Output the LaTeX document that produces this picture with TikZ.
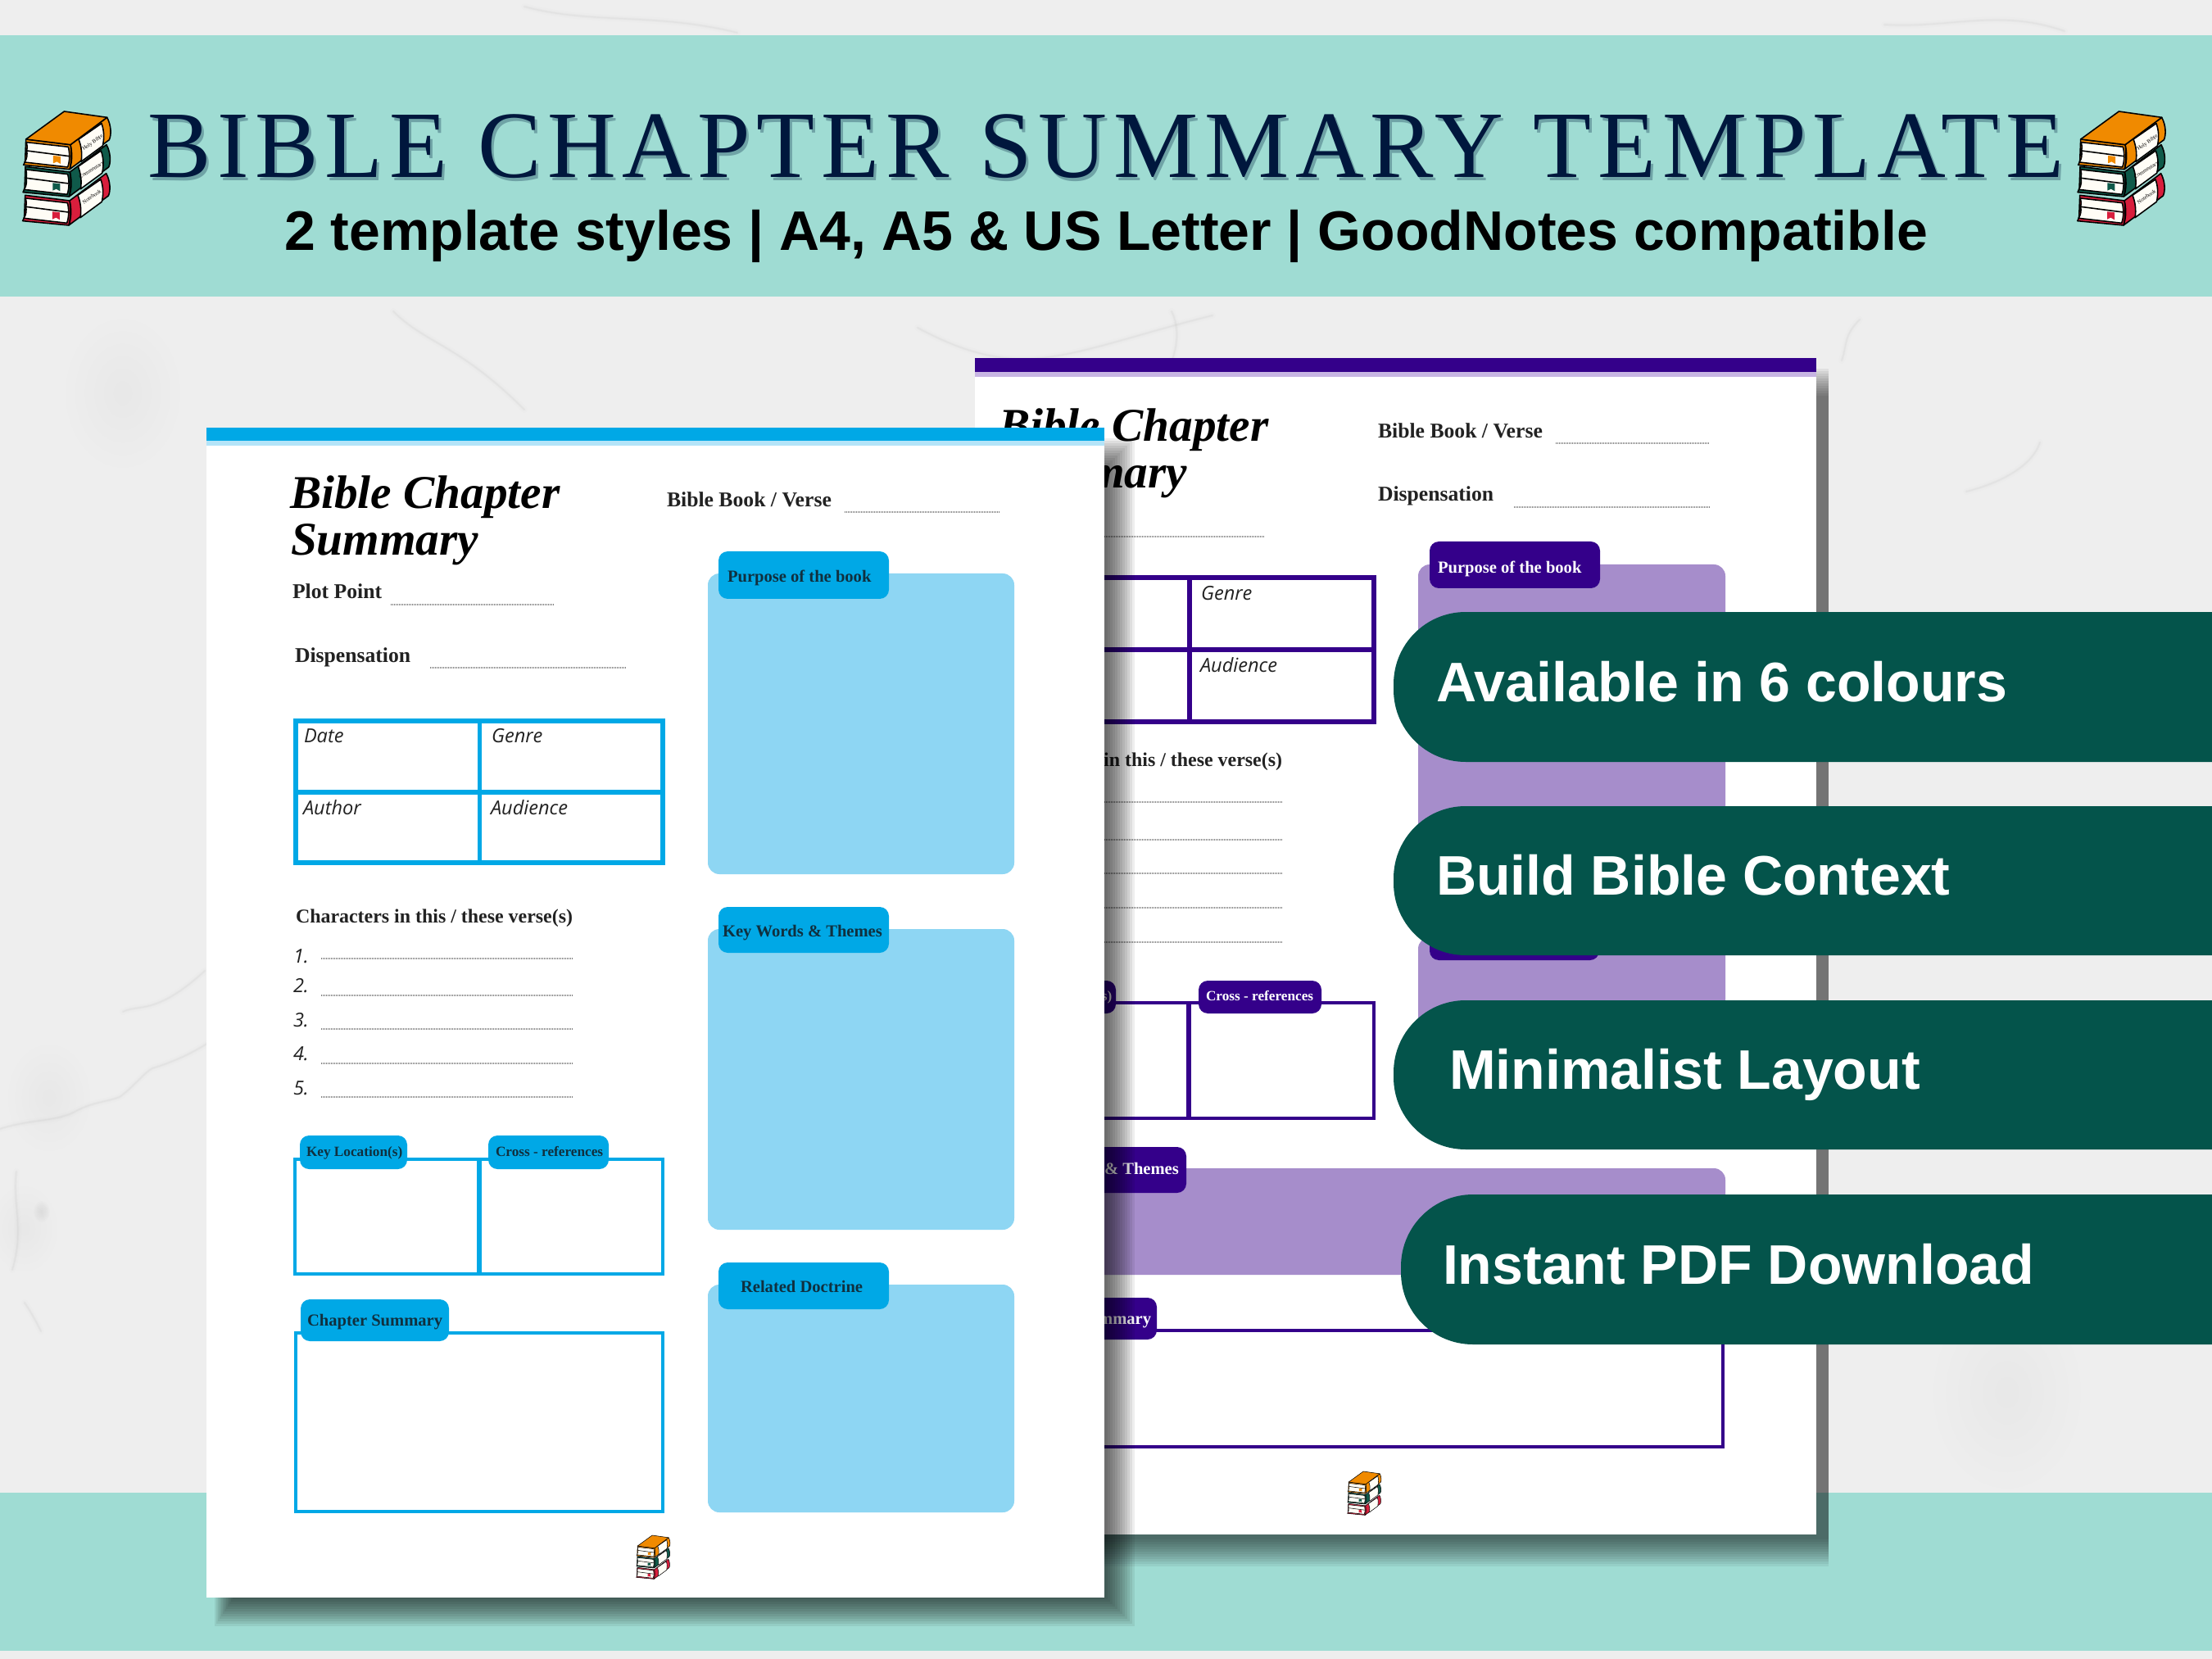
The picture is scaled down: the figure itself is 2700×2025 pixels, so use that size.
\documentclass[tikz,border=0pt]{standalone}
\usepackage{fontspec}
\setmainfont{Liberation Serif}
\newfontfamily\arialf{Liberation Sans}
\newfontfamily\opensf{Open Sans}
\newfontfamily\titlef[LetterSpace=6.7]{Liberation Serif}
\definecolor{bgc}{HTML}{EEEEEE}
\definecolor{vein}{HTML}{BDBDBB}
\definecolor{band}{HTML}{9FDCD3}
\definecolor{navy}{HTML}{00173D}
\definecolor{navysh}{HTML}{6FA3A6}
\definecolor{pillc}{HTML}{04544B}
\definecolor{bluec}{HTML}{00A8E6}
\definecolor{bluel}{HTML}{B4E4F8}
\definecolor{bluep}{HTML}{8ED6F3}
\definecolor{purc}{HTML}{34008A}
\definecolor{purl}{HTML}{C7B5E2}
\definecolor{purp}{HTML}{A68DCB}
\definecolor{inkc}{HTML}{222222}
\definecolor{tabink}{HTML}{10303F}
\definecolor{creamc}{HTML}{FFFDF6}
\definecolor{borange}{HTML}{F08A00}
\definecolor{bgreen}{HTML}{0F5A4A}
\definecolor{bred}{HTML}{D81E3C}
\newcommand\bookbody[2]{%
\begin{scope}[shift={(#2)}]
\filldraw[fill=#1] (258,200) -- (392,100) .. controls (408,130) and (408,165) .. (400,182) -- (255,290) .. controls (265,262) and (265,228) .. (258,200) -- cycle;
\filldraw[fill=creamc] (288,180) -- (372,122) .. controls (382,150) and (382,178) .. (376,204) -- (297,262) .. controls (302,235) and (298,205) .. (288,180) -- cycle;
\filldraw[fill=#1] (95,180) -- (258,200) .. controls (262,230) and (262,260) .. (255,290) -- (86,274) -- (92,262) -- cycle;
\filldraw[fill=creamc] (97,191) -- (250,208) .. controls (256,230) and (256,260) .. (248,282) -- (90,264) .. controls (100,250) and (100,235) .. (98,222) .. controls (100,210) and (100,200) .. (97,191) -- cycle;
\draw (98,222) -- (253,242);
\fill[#1] (195,240) -- (222,243) -- (222,270) -- (208,262) -- (195,268) -- cycle;
\end{scope}}
\newcommand\softblob[4]{\foreach \m in {1,...,6}{\fill[gray,opacity=#4] (#1,#2) ellipse ({#3*\m/6} and {#3*\m/6*1.3});}}
\tikzset{
  x=0.01cm,y=-0.01cm,
  lab/.style={anchor=base west,inner sep=0pt,outer sep=0pt,text=inkc,font=\bfseries\fontsize{7.3}{8}\selectfont},
  ttl/.style={anchor=base west,inner sep=0pt,outer sep=0pt,text=black,font=\bfseries\itshape\fontsize{16.3}{18}\selectfont},
  cell/.style={anchor=base west,inner sep=0pt,outer sep=0pt,text=inkc,font=\opensf\itshape\fontsize{6.7}{8}\selectfont},
  tabtxt/.style={anchor=base west,inner sep=0pt,outer sep=0pt,text=tabink,font=\bfseries\fontsize{5.85}{7}\selectfont},
  tabsm/.style={tabtxt,font=\bfseries\fontsize{4.9}{6}\selectfont},
  pillt/.style={anchor=base west,inner sep=0pt,outer sep=0pt,text=white,font=\arialf\bfseries\fontsize{19.35}{22}\selectfont},
  dots/.style={gray,line width=.33pt,dash pattern=on .2845pt off .2845pt},
  pagegrid/.style={line width=1.7pt},
  tabfill/.style={rounded corners=3.2pt},
  panelfill/.style={rounded corners=4pt},
  pics/bookstack/.style={code={
    \begin{scope}[line width=#1,line join=round]
    \bookbody{bred}{-3,205}
    \bookbody{bgreen}{-2,100}
    \bookbody{borange}{0,0}
    \filldraw[fill=borange] (95,180) -- (235,78) -- (392,100) -- (258,200) -- cycle;
    \end{scope}}},
  pics/booklabels/.style={code={
    \node[transform shape,rotate=35,inner sep=0pt,font=\fontsize{5.6}{6}\selectfont] (lb1#1) at (340,193) {Holy Bible};
    \node[transform shape,rotate=32,inner sep=0pt,font=\fontsize{5.6}{6}\selectfont] (lb2#1) at (336,294) {Commentary};
    \node[transform shape,rotate=35,inner sep=0pt,font=\fontsize{5.6}{6}\selectfont] (lb3#1) at (336,390) {Notebook};}},
}
\begin{document}
\begin{tikzpicture}
\useasboundingbox (0,0) rectangle (2700,2025);
% background
\fill[bgc] (0,0) rectangle (2700,2025);
\begin{scope}[vein,line cap=round]
\foreach \w/\o in {2.2pt/.04,1pt/.07,.4pt/.12}{
\begin{scope}[line width=\w,opacity=\o]
\draw (0,1378) .. controls (40,1365) and (70,1370) .. (95,1355) .. controls (115,1345) and (130,1345) .. (146,1339) .. controls (165,1325) and (175,1310) .. (186,1304) .. controls (215,1295) and (235,1285) .. (254,1273);
\draw (20,1430) .. controls (15,1470) and (30,1500) .. (15,1550);
\draw (30,1590) .. controls (40,1605) and (45,1615) .. (50,1625);
\draw (150,1235) .. controls (170,1225) and (190,1240) .. (250,1185);
\draw (1120,400) .. controls (1250,470) and (1300,430) .. (1480,385);
\draw (1430,380) .. controls (1450,420) and (1420,480) .. (1380,500);
\draw (2270,390) .. controls (2250,410) and (2255,420) .. (2248,440);
\draw (2400,600) .. controls (2440,590) and (2480,570) .. (2490,540);
\draw (2300,30) .. controls (2380,35) and (2440,10) .. (2520,38);
\draw (640,8) .. controls (720,30) and (800,15) .. (900,40);
\draw (480,380) .. controls (520,420) and (560,420) .. (640,500);
\end{scope}}
\end{scope}
\softblob{51}{1479}{10}{.02}
\softblob{60}{1340}{50}{.007}
\softblob{30}{1500}{40}{.007}
\softblob{2450}{1700}{90}{.004}
\softblob{150}{480}{70}{.004}
% bands
\fill[band] (0,43) rectangle (2700,362);
\fill[band] (0,1822) rectangle (2700,2015);
% header
\node[anchor=base west,inner sep=0pt,outer sep=0pt,text=navysh,font=\titlef\fontsize{33}{36}\selectfont] (titlesh) at (183,221) {BIBLE CHAPTER SUMMARY TEMPLATE};
\node[anchor=base west,inner sep=0pt,outer sep=0pt,text=navy,font=\titlef\fontsize{33}{36}\selectfont] (title) at (180,217) {BIBLE CHAPTER SUMMARY TEMPLATE};
\node[anchor=base west,inner sep=0pt,outer sep=0pt,text=black,font=\arialf\bfseries\fontsize{19.33}{22}\selectfont] (subtitle) at (347,306) {2 template styles | A4, A5 \& US Letter | GoodNotes compatible};
\pic (iconL) at (0,110) [scale=.3333] {bookstack=.45pt};
\pic (lblL) at (0,110) [scale=.3333] {booklabels=a};
\pic (iconR) at (2508,110) [scale=.3333] {bookstack=.45pt};
\pic (lblR) at (2508,110) [scale=.3333] {booklabels=b};
% back page shadow
\foreach \k in {0,...,11}{\fill[black,opacity=.055] (1210,450+3*\k) rectangle (2232,1912-3*\k);}
% back page
\fill[white] (1190,437) rectangle (2217,1873);
\fill[purl] (1190,454) rectangle (2217,460);
\fill[purc] (1190,437) rectangle (2217,454);
\node[ttl] (bt1) at (1219,539) {Bible Chapter};
\node[ttl] (bt2) at (1220,596) {Summary};
\node[lab] (bv) at (1682,535) {Bible Book / Verse};
\draw[dots] (1899,541) -- (2087,541);
\node[lab] (bd) at (1682,612) {Dispensation};
\draw[dots] (1848,619) -- (2087,619);
\draw[dots] (1300,655) -- (1543,655);
\draw[purc,pagegrid] (1226,705) rectangle (1677,881);
\draw[purc,pagegrid] (1226,793) -- (1677,793);
\draw[purc,pagegrid] (1452,705) -- (1452,881);
\node[cell] (bg) at (1466,732) {Genre};
\node[cell] (ba) at (1465,820) {Audience};
\node[lab,font=\bfseries\fontsize{6.8}{8}\selectfont] (bc) at (1227,935) {Characters in this / these verse(s)};
\foreach \yy in {979,1025,1066,1108,1150}{\draw[dots] (1230,\yy) -- (1566,\yy);}
\fill[purp,panelfill] (1731,689) rectangle (2106,1100);
\fill[purc,tabfill] (1745,661) rectangle (1953,718);
\node[tabtxt,text=white] (bp) at (1755,699) {Purpose of the book};
\fill[purp,panelfill] (1731,1144) rectangle (2106,1310);
\fill[purc,tabfill] (1745,1115) rectangle (1952,1172);
\draw[purc,line width=1.4pt] (1226,1224) rectangle (1677,1365);
\draw[purc,line width=1.6pt] (1451,1224) -- (1451,1365);
\fill[purc,tabfill] (1232,1197) rectangle (1362,1237);
\node[tabsm,text=white] (bk) at (1240,1221) {Key Location(s)};
\fill[purc,tabfill] (1463,1197) rectangle (1613,1237);
\node[tabsm,text=white] (bx) at (1472,1221) {Cross - references};
\fill[purp,panelfill] (1226,1426) rectangle (2106,1556);
\fill[purc,tabfill] (1238,1400) rectangle (1448,1456);
\node[tabtxt,text=white] (bw) at (1244,1433) {Key Words \& Themes};
\draw[purc,line width=1.25pt] (1226,1624) rectangle (2103,1766);
\fill[purc,tabfill] (1232,1584) rectangle (1412,1635);
\node[tabtxt,text=white] (bs) at (1240,1616) {Chapter Summary};
\pic (iconB) at (1634,1786) [scale=.128] {bookstack=.15pt};
% front page shadow
\foreach \k in {0,...,11}{\fill[black,opacity=.065] (262+2*\k,535+3*\k) rectangle (1385-3*\k,1985-3*\k);}
% front page
\fill[white] (252,522) rectangle (1348,1950);
\fill[bluel] (252,538) rectangle (1348,544);
\fill[bluec] (252,522) rectangle (1348,538);
\node[ttl] (ft1) at (354,620) {Bible Chapter};
\node[ttl] (ft2) at (355,678) {Summary};
\node[lab] (fv) at (814,619) {Bible Book / Verse};
\draw[dots] (1031,625) -- (1220,625);
\node[lab] (fp) at (357,731) {Plot Point};
\draw[dots] (477,738) -- (676,738);
\node[lab] (fd) at (360,808) {Dispensation};
\draw[dots] (525,815) -- (765,815);
\draw[bluec,pagegrid] (361,880) rectangle (809,1053);
\draw[bluec,pagegrid] (361,967) -- (809,967);
\draw[bluec,pagegrid] (585.5,880) -- (585.5,1053);
\node[cell] (fc1) at (371,906) {Date};
\node[cell] (fc2) at (600,906) {Genre};
\node[cell] (fc3) at (370,994) {Author};
\node[cell] (fc4) at (599,994) {Audience};
\node[lab,font=\bfseries\fontsize{6.8}{8}\selectfont] (fc) at (361,1126) {Characters in this / these verse(s)};
\node[cell] (fn1) at (358,1175) {1.};
\node[cell] (fn2) at (358,1211) {2.};
\node[cell] (fn3) at (358,1253) {3.};
\node[cell] (fn4) at (358,1294) {4.};
\node[cell] (fn5) at (358,1336) {5.};
\foreach \yy in {1170,1215,1256,1298,1339}{\draw[dots] (392,\yy) -- (700,\yy);}
\draw[bluec,line width=1.4pt] (360,1415) rectangle (809,1555);
\draw[bluec,line width=1.6pt] (585,1415) -- (585,1555);
\fill[bluec,tabfill] (366,1386) rectangle (497,1427);
\node[tabsm] (fk) at (374,1411) {Key Location(s)};
\fill[bluec,tabfill] (596,1386) rectangle (743,1427);
\node[tabsm] (fx) at (605,1411) {Cross - references};
\draw[bluec,line width=1.4pt] (361,1627) rectangle (809,1845);
\fill[bluec,tabfill] (367,1586) rectangle (548,1637);
\node[tabtxt] (fs) at (375,1618) {Chapter Summary};
\fill[bluep,panelfill] (864,700) rectangle (1238,1067);
\fill[bluec,tabfill] (877,673) rectangle (1085,731);
\node[tabtxt] (fpb) at (888,711) {Purpose of the book};
\fill[bluep,panelfill] (864,1134) rectangle (1238,1501);
\fill[bluec,tabfill] (877,1107) rectangle (1085,1163);
\node[tabtxt] (fkw) at (882,1143) {Key Words \& Themes};
\fill[bluep,panelfill] (864,1568) rectangle (1238,1846);
\fill[bluec,tabfill] (877,1541) rectangle (1085,1598);
\node[tabtxt] (frd) at (904,1577) {Related Doctrine};
\pic (iconF) at (766,1864) [scale=.128] {bookstack=.15pt};
% pills
\fill[pillc,rounded corners=25pt] (2800,747) -- (1701,747) -- (1701,930) -- (2800,930) -- cycle;
\fill[pillc,rounded corners=25pt] (2800,984) -- (1701,984) -- (1701,1166) -- (2800,1166) -- cycle;
\fill[pillc,rounded corners=25pt] (2800,1221) -- (1701,1221) -- (1701,1403) -- (2800,1403) -- cycle;
\fill[pillc,rounded corners=25pt] (2800,1458) -- (1710,1458) -- (1710,1641) -- (2800,1641) -- cycle;
\node[pillt] (p1) at (1753,856) {Available in 6 colours};
\node[pillt] (p2) at (1753,1092) {Build Bible Context};
\node[pillt] (p3) at (1769,1329) {Minimalist Layout};
\node[pillt] (p4) at (1761,1567) {Instant PDF Download};
\end{tikzpicture}
\end{document}
